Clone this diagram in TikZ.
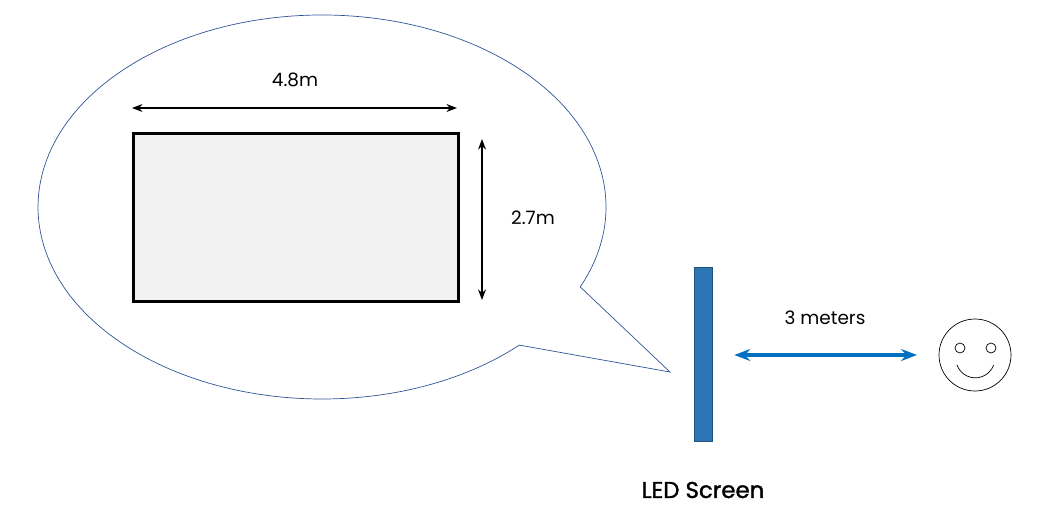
\documentclass[tikz,border=0pt]{standalone}
\usepackage{fontspec}
\setmainfont{Poppins}
\newfontfamily\ledfont[FakeBold=1.5]{Poppins}
\usetikzlibrary{arrows.meta, positioning}
\definecolor{screenblue}{HTML}{2E75B6}
\definecolor{arrowblue}{HTML}{0070C0}
\definecolor{bubbleline}{HTML}{2F5597}
\tikzset{
    dimarrow/.style={{Stealth[length=6pt]}-{Stealth[length=6pt]}, thick},
    label/.style={font=\fontsize{10.5}{12}\selectfont, inner sep=0pt},
}
\begin{document}
\begin{tikzpicture}[x=0.02cm, y=-0.02cm]
 \useasboundingbox (0,0) rectangle (1055,531);

 % speech bubble
 \draw[bubbleline, thin] (670,372) -- (519.3,345.1)
   arc[start angle=46, end angle=384.6, x radius=284, y radius=192] -- cycle;

 % the screen seen in the bubble
 \node[draw=black, line width=1.7pt, fill=black!5, minimum width=6.5cm,
  minimum height=3.36cm, inner sep=0pt, anchor=north west] (PANEL) at (132,132) {};

 \coordinate (W_L) at (132,108);
 \coordinate (W_R) at (457,108);
 \draw[dimarrow] (W_L) -- (W_R);
 \node[label] (WIDTH) at (295,80) {4.8m};

 \coordinate (H_T) at (482,139);
 \coordinate (H_B) at (482,300);
 \draw[dimarrow] (H_T) -- (H_B);
 \node[label] (HEIGHT) at (533,218) {2.7m};

 % led screen
 \node[draw=screenblue!70!black, fill=screenblue, minimum width=0.36cm,
  minimum height=3.48cm, inner sep=0pt] (LED) at (703,354) {};
 \node[font=\ledfont\fontsize{13}{14}\selectfont, inner sep=0pt] (LED_LABEL) at (703,490) {LED Screen};

 % viewer
 \node[draw=black, circle, minimum size=1.44cm, inner sep=0pt] (FACE) at (975,355) {};
 \draw (960,348) circle[radius=5];
 \draw (991,348) circle[radius=5];
 \draw (957,365) arc[start angle=160, end angle=20, radius=19.5];

 \draw[{Stealth[length=9pt]}-{Stealth[length=9pt]}, arrowblue, line width=2.2pt]
  (LED.east |- FACE) ++(22,0) coordinate (D_L) -- (917,355) coordinate (D_R);
 \node[label] (DIST) at (825,318) {3 meters};
\end{tikzpicture}
\end{document}
